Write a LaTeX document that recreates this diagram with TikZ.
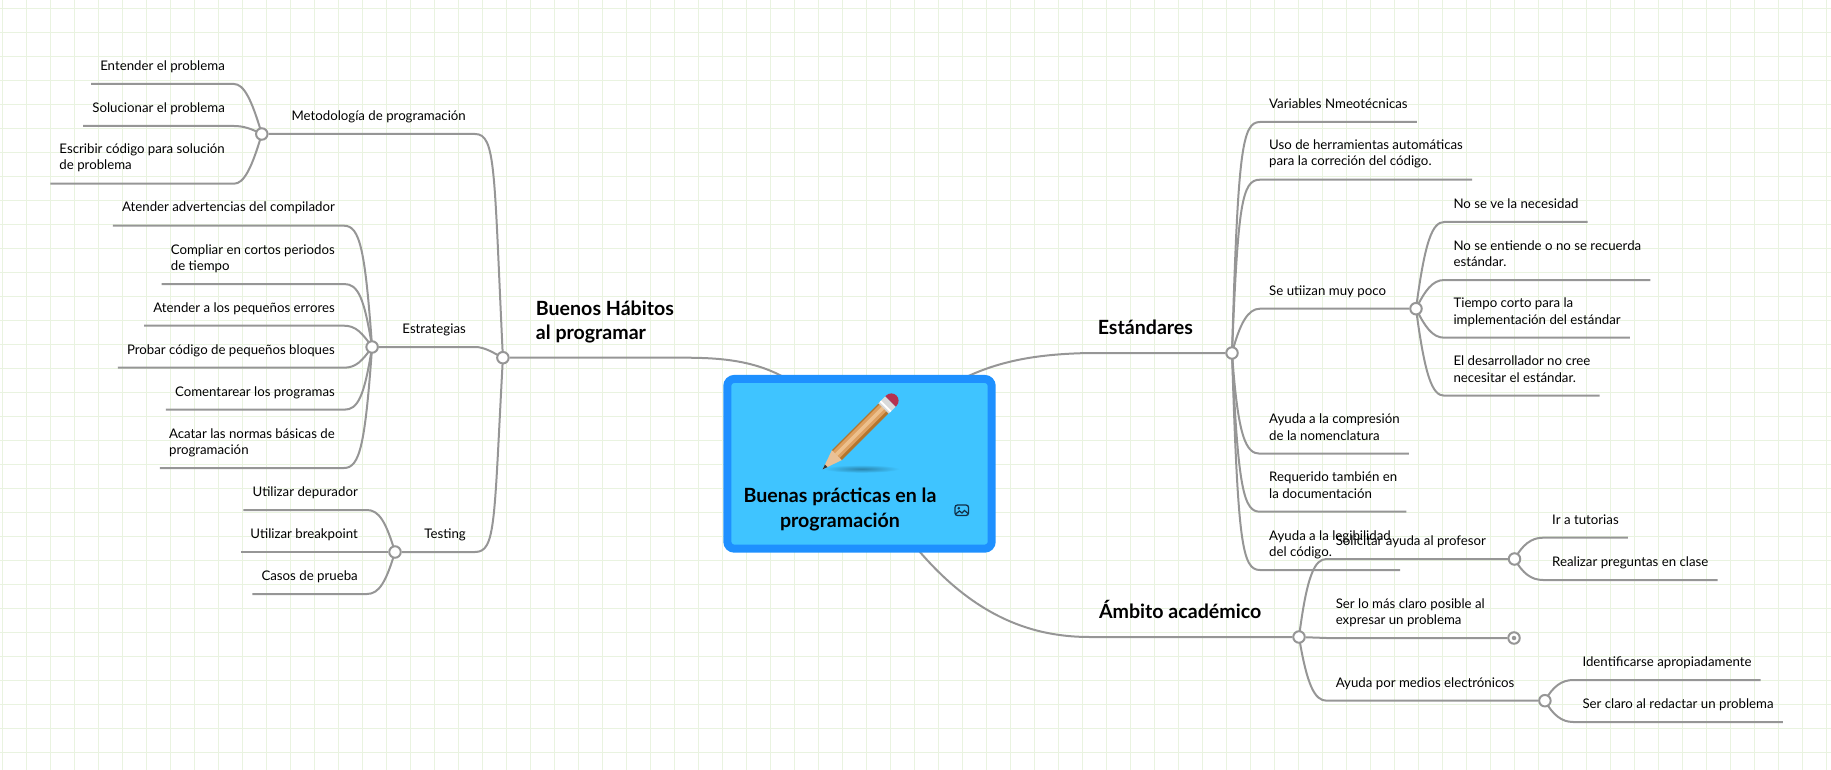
\documentclass[tikz,border=0pt]{standalone}
\usepackage{fontspec}
\setmainfont{Lato}
\usetikzlibrary{positioning, backgrounds}

\definecolor{gridc}{HTML}{E9F3E0}
\definecolor{linec}{HTML}{969696}
\definecolor{boxc}{HTML}{1E90FF}
\definecolor{fillc}{HTML}{3FC4FF}
\definecolor{iconc}{HTML}{123048}
\definecolor{woodedge}{HTML}{B5752B}
\definecolor{woodmid}{HTML}{DDA060}
\definecolor{woodlight}{HTML}{EDC08C}
\definecolor{conec}{HTML}{EAC197}
\definecolor{rubberc}{HTML}{B5304F}

\tikzset{
    gridline/.style={draw=gridc, line width=0.9pt},
    branch/.style={draw=linec, line width=2pt},
    hub/.style={circle, draw=linec, line width=2pt, fill=white, inner sep=0pt, minimum size=11.5pt},
    leaf/.style={font=\fontsize{13.25}{16.3}\selectfont, align=left, inner xsep=9pt, inner ysep=10pt, text depth=3.5pt},
    topic/.style={font=\fontsize{19.6}{24.4}\selectfont\bfseries, align=left, inner xsep=9pt, inner ysep=14pt, text depth=4pt},
}

\begin{document}
\begin{tikzpicture}[x=1pt, y=-1pt]
    \useasboundingbox (0,0) rectangle (1831,770);

    % centre
    \node[draw=boxc, fill=fillc, line width=8pt, rounded corners=7pt, minimum width=264.4pt, minimum height=169.7pt] (central) at (859.5,463.8) {};
    \node[font=\fontsize{19.6}{24.4}\selectfont\bfseries, align=center] (titulo) at (840,509.5) {Buenas prácticas en la\\programación};

    % left side
    \node[hub] (hubBuenos) at (502.9,357.7) {};
    \node[topic, anchor=south west] (buenos) at (526.7,357.7) {Buenos Hábitos\\al programar};

    \node[hub] (hubMetodo) at (261.8,134) {};
    \node[leaf, anchor=south east] (metodo) at (475,134) {Metodología de programación};
    \node[leaf, anchor=south east] (entender) at (234,84) {Entender el problema};
    \node[leaf, anchor=south east] (solucionar) at (234,126) {Solucionar el problema};
    \node[leaf, anchor=south east] (escribir) at (234,183.7) {Escribir código para solución\\de problema};

    \node[hub] (hubEstrategias) at (372.1,347) {};
    \node[leaf, anchor=south east] (estrategias) at (475,347) {Estrategias};
    \node[leaf, anchor=south east] (advertencias) at (344,225.7) {Atender advertencias del compilador};
    \node[leaf, anchor=south east] (compilar) at (344,284) {Compliar en cortos periodos\\de tiempo};
    \node[leaf, anchor=south east] (errores) at (344,325.7) {Atender a los pequeños errores};
    \node[leaf, anchor=south east] (bloques) at (344,367.7) {Probar código de pequeños bloques};
    \node[leaf, anchor=south east] (comentar) at (344,409.7) {Comentarear los programas};
    \node[leaf, anchor=south east] (normas) at (344,468) {Acatar las normas básicas de\\programación};

    \node[hub] (hubTesting) at (395,552) {};
    \node[leaf, anchor=south east] (testing) at (475,552) {Testing};
    \node[leaf, anchor=south east] (depurador) at (367,510) {Utilizar depurador};
    \node[leaf, anchor=south east] (breakpoint) at (367,552) {Utilizar breakpoint};
    \node[leaf, anchor=south east] (casos) at (367,594) {Casos de prueba};

    % right side
    \node[hub] (hubEstandares) at (1232,353) {};
    \node[topic, anchor=south west] (estandares) at (1088.6,353) {Estándares};
    \node[leaf, anchor=south west] (variables) at (1260,122) {Variables Nmeotécnicas};
    \node[leaf, anchor=south west] (uso) at (1260,179.7) {Uso de herramientas automáticas\\para la correción del código.};
    \node[leaf, anchor=south west] (utiizan) at (1260,308.7) {Se utiizan muy poco};
    \node[leaf, anchor=south west] (compresion) at (1260,453.7) {Ayuda a la compresión\\de la nomenclatura};
    \node[leaf, anchor=south west] (requerido) at (1260,511.7) {Requerido también en\\la documentación};
    \node[leaf, anchor=south west] (legibilidad) at (1260,570) {Ayuda a la legibilidad\\del código.};

    \node[hub] (hubUtiizan) at (1416,308.7) {};
    \node[leaf, anchor=south west] (necesidad) at (1444.3,222) {No se ve la necesidad};
    \node[leaf, anchor=south west] (entiende) at (1444.3,280) {No se entiende o no se recuerda\\estándar.};
    \node[leaf, anchor=south west] (tiempo) at (1444.3,337.7) {Tiempo corto para la\\implementación del estándar};
    \node[leaf, anchor=south west] (desarrollador) at (1444.3,395.7) {El desarrollador no cree\\necesitar el estándar.};

    \node[hub] (hubAmbito) at (1299,637) {};
    \node[topic, anchor=south west] (ambito) at (1089.8,637) {Ámbito académico};
    \node[leaf, anchor=south west] (solicitar) at (1326.6,559) {Solicitar ayuda al profesor};
    \node[leaf, anchor=south west] (claro) at (1326.6,638) {Ser lo más claro posible al\\expresar un problema};
    \node[leaf, anchor=south west] (medios) at (1326.6,700.7) {Ayuda por medios electrónicos};

    \node[hub] (hubSolicitar) at (1514.5,559) {};
    \node[leaf, anchor=south west] (tutorias) at (1543,537.7) {Ir a tutorias};
    \node[leaf, anchor=south west] (preguntas) at (1543,580) {Realizar preguntas en clase};

    \node[hub] (finClaro) at (1514,638) {};
    \node[circle, fill=linec, inner sep=0pt, minimum size=4.5pt] (puntoClaro) at (finClaro) {};

    \node[hub] (hubMedios) at (1544.9,700.7) {};
    \node[leaf, anchor=south west] (identificarse) at (1573.3,680) {Identificarse apropiadamente};
    \node[leaf, anchor=south west] (redactar) at (1573.3,722) {Ser claro al redactar un problema};

    % pencil
    \shade[inner color=fillc!68!black, outer color=fillc] (861.7,468.8) ellipse (38 and 4);
    \begin{scope}[shift={(822.7,469.3)}, rotate=45]
        \fill[woodedge] (20,-7) rectangle (86,7);
        \fill[woodmid] (20,-5.5) rectangle (86,4);
        \fill[woodlight] (20,-2.5) rectangle (86,1);
        \fill[conec] (0,0) -- (20,-7) -- (20,7) -- cycle;
        \fill[black!80] (0,0) -- (5,-1.8) -- (5,1.8) -- cycle;
        \fill[black!15] (86,-7.3) rectangle (96,7.3);
        \fill[white] (88,-7.3) rectangle (90,7.3);
        \fill[rubberc] (96,-7.3) -- (97,-7.3) arc (-90:90:7.3) -- (96,7.3) -- cycle;
    \end{scope}

    % picture icon
    \draw[iconc, line width=1.3pt, rounded corners=2.5pt] (955,505) rectangle (968.5,515.5);
    \fill[iconc] (958.8,508.2) circle (1.4);
    \draw[iconc, line width=1.2pt] (955.5,514) -- (959.5,511) -- (962,513) -- (964.5,510.5) -- (968,513.5);

    \begin{scope}[on background layer]
        \foreach \gx in {0,...,76} {
            \draw[gridline] (2.3+24*\gx,0) -- (2.3+24*\gx,770);
        }
        \foreach \gy in {0,...,31} {
            \draw[gridline] (0,8.3+24*\gy) -- (1831,8.3+24*\gy);
        }

        % centre to the three main hubs
        \draw[branch] (hubBuenos) -- (buenos.south east) .. controls +(65,0) and (810,365) .. (central.center);
        \draw[branch] (hubEstandares) -- (estandares.south west) .. controls +(-88,2) and (940,372) .. (central.center);
        \draw[branch] (hubAmbito) -- (ambito.south west) .. controls +(-80,0) and (935,598) .. (central.center);

        % Buenos Habitos
        \draw[branch] (hubBuenos.center) .. controls +(-9,-188) and +(21,0) .. (metodo.south east) -- (hubMetodo);
        \draw[branch] (hubBuenos.center) .. controls +(-10,-5) and +(10,0) .. (estrategias.south east) -- (hubEstrategias);
        \draw[branch] (hubBuenos.center) .. controls +(-9,165) and +(21,0) .. (testing.south east) -- (hubTesting);

        \draw[branch] (hubMetodo.center) .. controls +(-10,-34) and +(10,0) .. (entender.south east) -- (entender.south west);
        \draw[branch] (hubMetodo.center) .. controls +(-10,-5) and +(10,0) .. (solucionar.south east) -- (solucionar.south west);
        \draw[branch] (hubMetodo.center) .. controls +(-10,34) and +(10,0) .. (escribir.south east) -- (escribir.south west);

        \draw[branch] (hubEstrategias.center) .. controls +(-7,-97) and +(16,0) .. (advertencias.south east) -- (advertencias.south west);
        \draw[branch] (hubEstrategias.center) .. controls +(-8,-50) and +(14,0) .. (compilar.south east) -- (compilar.south west);
        \draw[branch] (hubEstrategias.center) .. controls +(-10,-14) and +(12,0) .. (errores.south east) -- (errores.south west);
        \draw[branch] (hubEstrategias.center) .. controls +(-10,14) and +(12,0) .. (bloques.south east) -- (bloques.south west);
        \draw[branch] (hubEstrategias.center) .. controls +(-8,50) and +(14,0) .. (comentar.south east) -- (comentar.south west);
        \draw[branch] (hubEstrategias.center) .. controls +(-7,97) and +(16,0) .. (normas.south east) -- (normas.south west);

        \draw[branch] (hubTesting.center) .. controls +(-9,-30) and +(12,0) .. (depurador.south east) -- (depurador.south west);
        \draw[branch] (hubTesting) -- (breakpoint.south west);
        \draw[branch] (hubTesting.center) .. controls +(-9,30) and +(12,0) .. (casos.south east) -- (casos.south west);

        % Estandares
        \draw[branch] (hubEstandares.center) .. controls +(6,-203) and +(-18,0) .. (variables.south west) -- (variables.south east);
        \draw[branch] (hubEstandares.center) .. controls +(6,-150) and +(-18,0) .. (uso.south west) -- (uso.south east);
        \draw[branch] (hubEstandares.center) .. controls +(8,-30) and +(-12,0) .. (utiizan.south west) -- (hubUtiizan);
        \draw[branch] (hubEstandares.center) .. controls +(6,85) and +(-14,0) .. (compresion.south west) -- (compresion.south east);
        \draw[branch] (hubEstandares.center) .. controls +(6,138) and +(-16,0) .. (requerido.south west) -- (requerido.south east);
        \draw[branch] (hubEstandares.center) .. controls +(6,190) and +(-18,0) .. (legibilidad.south west) -- (legibilidad.south east);

        \draw[branch] (hubUtiizan.center) .. controls +(9,-68) and +(-12,0) .. (necesidad.south west) -- (necesidad.south east);
        \draw[branch] (hubUtiizan.center) .. controls +(9,-18) and +(-12,0) .. (entiende.south west) -- (entiende.south east);
        \draw[branch] (hubUtiizan.center) .. controls +(9,18) and +(-12,0) .. (tiempo.south west) -- (tiempo.south east);
        \draw[branch] (hubUtiizan.center) .. controls +(9,68) and +(-12,0) .. (desarrollador.south west) -- (desarrollador.south east);

        % Ambito
        \draw[branch] (hubAmbito.center) .. controls +(8,-62) and +(-12,0) .. (solicitar.south west) -- (hubSolicitar);
        \draw[branch] (hubAmbito) -- (claro.south west) -- (finClaro);
        \draw[branch] (hubAmbito.center) .. controls +(8,48) and +(-12,0) .. (medios.south west) -- (hubMedios);

        \draw[branch] (hubSolicitar.center) .. controls +(8,-14) and +(-12,0) .. (tutorias.south west) -- (tutorias.south east);
        \draw[branch] (hubSolicitar.center) .. controls +(8,14) and +(-12,0) .. (preguntas.south west) -- (preguntas.south east);
        \draw[branch] (hubMedios.center) .. controls +(8,-14) and +(-12,0) .. (identificarse.south west) -- (identificarse.south east);
        \draw[branch] (hubMedios.center) .. controls +(8,14) and +(-12,0) .. (redactar.south west) -- (redactar.south east);
    \end{scope}
\end{tikzpicture}
\end{document}
